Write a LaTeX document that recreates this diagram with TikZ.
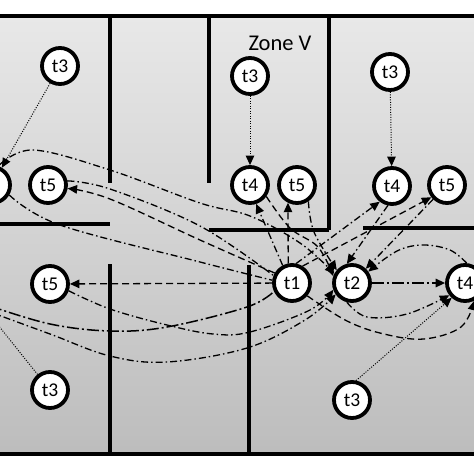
\documentclass[tikz,border=0pt]{standalone}
\usepackage{fontspec}
\newfontfamily\lab{Carlito}
\usetikzlibrary{arrows.meta}
\begin{document}
\begin{tikzpicture}[x=1pt,y=-1pt,
  wall/.style={line width=4pt},
  tnode/.style={circle,draw,line width=3.8pt,fill=white,minimum size=36pt,inner sep=0pt,font=\lab\fontsize{19.5}{19.5}\selectfont},
  tip/.style={-{Triangle[length=9.5pt,width=8.5pt]}},
  dotl/.style={line width=1pt,dash pattern=on 1pt off 1.5pt},
  dashl/.style={line width=1.3pt,dash pattern=on 7pt off 4pt},
  dashdot/.style={line width=1.3pt,dash pattern=on 7pt off 3pt on 1.5pt off 3pt},
  longdd/.style={line width=1.5pt,dash pattern=on 12pt off 3pt on 2pt off 3pt},
  sm/.style={smooth,tension=0.6}
]
\useasboundingbox (0,0) rectangle (474,474);
\fill[white] (0,0) rectangle (474,474);
\shade[top color=black!9,bottom color=black!26] (-2,16) rectangle (476,454);
% walls
\draw[wall] (-5,16) -- (479,16);
\draw[wall] (-5,454) -- (479,454);
\draw[wall] (110,16) -- (110,183);
\draw[wall] (209,16) -- (209,183);
\draw[wall] (329,16) -- (329,230);
\draw[wall] (209,230) -- (329,230);
\draw[wall] (-5,224) -- (110,224);
\draw[wall] (363,228) -- (479,228);
\draw[wall] (110,264) -- (110,454);
\draw[wall] (249,265) -- (249,454);
\node[font=\lab\fontsize{22.5}{22.5}\selectfont] (zone) at (280,43) {Zone V};
% nodes
\node[tnode] (L3) at (60,66) {t3};
\node[tnode] (L4) at (-8,185) {};
\node[tnode] (L5) at (48,185) {t5};
\node[tnode] (V3) at (250,76) {t3};
\node[tnode] (V4) at (250,185) {t4};
\node[tnode] (V5) at (297,185) {t5};
\node[tnode] (R3) at (390,72) {t3};
\node[tnode] (R4) at (392,186) {t4};
\node[tnode] (R5) at (447,185) {t5};
\node[tnode] (t1) at (292,283) {t1};
\node[tnode] (t2) at (352,283) {t2};
\node[tnode] (E4) at (465,283) {t4};
\node[tnode] (P5) at (50,284) {t5};
\node[tnode] (P3) at (50,390) {t3};
\node[tnode] (Q3) at (352,400) {t3};
\coordinate (offP) at (-10,315);
\coordinate (offE) at (-10,306);
\coordinate (offF) at (-10,312);
% dotted
\draw[dotl,tip] (L3) -- (L4);
\draw[dotl,tip] (V3) -- (V4);
\draw[dotl,tip] (R3) -- (R4);
\draw[dotl,tip] (Q3.78) -- (E4.228);
\draw[dotl] (P3) -- (offP);
% dashed
\draw[dashl,tip] (t1) -- (P5);
\draw[dashl,tip] (t1.101) -- (V5.243);
\draw[dashl,tip] plot[sm] coordinates {(t1.150) (200,240) (110,199) (L5.-10)};
\draw[dashl,tip] plot[sm] coordinates {(V4.-35) (290,228) (318,247) (t2.160)};
\draw[dashl,tip] (t1.58) -- (R5.218);
\draw[dashl,tip] plot[sm] coordinates {(t1.-40) (347,321) (384,334) (424,339) (461,327) (E4.-62)};
% dash-dot
\draw[dashdot,tip] plot[sm] coordinates {(L4.72) (33,150) (110,170) (200,203) (250,216) (300,243) (t2.152)};
\draw[dashdot] plot[sm] coordinates {(L5.12) (110,189) (200,226) (t1.158)};
\draw[dashdot] plot[sm] coordinates {(L4.-30) (60,225) (200,262) (t1.172)};
\draw[longdd] plot[sm] coordinates {(offE) (50,324) (110,331) (167,327) (247,307) (t1.205)};
\draw[dashdot,tip] plot[sm] coordinates {(offF) (50,334) (110,356) (167,362) (247,348) (305,320) (t2.215)};
\draw[dashdot,tip] plot[sm] coordinates {(P5.-20) (110,309) (167,325) (213,334) (250,332) (310,310) (t2.200)};
\draw[longdd,tip] (t2) -- (E4);
\draw[dashdot,tip] plot[sm] coordinates {(t2.-105) (367,317) (407,314) (E4.218)};
\draw[dashdot,tip] plot[sm] coordinates {(E4.85) (450,250) (423,245) (397,251) (t2.35)};
\draw[dashdot,tip] (R5) -- (t2);
\draw[dashdot,tip] (R4.258) -- (t2.105);
\draw[dashdot,tip] (t1.78) -- (R4.232);
\draw[dashdot,tip] (t1.118) -- (V4.-72);
\draw[dashdot,tip] plot[sm] coordinates {(V5.-55) (314,232) (t2.140)};
\end{tikzpicture}
\end{document}
